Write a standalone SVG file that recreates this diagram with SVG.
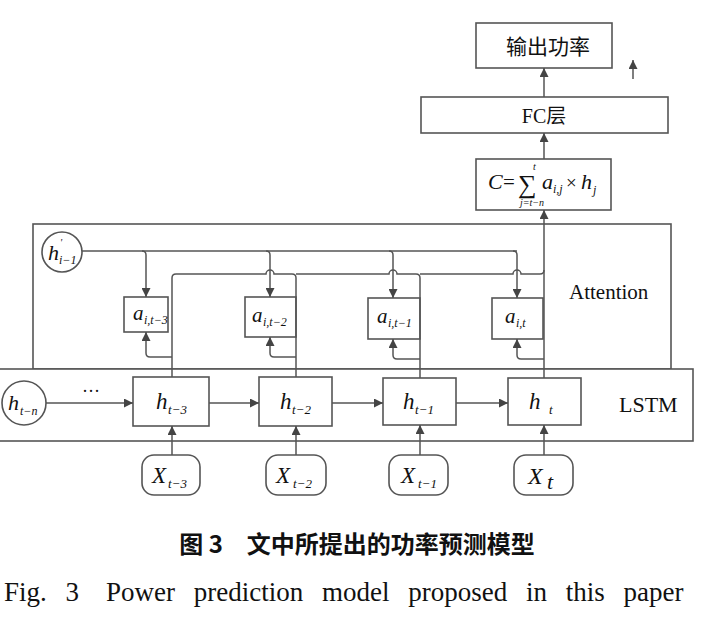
<svg xmlns="http://www.w3.org/2000/svg" width="715" height="621" viewBox="0 0 715 621">
<defs>
<marker id="ar" viewBox="0 0 10 10" refX="10" refY="5" markerWidth="9" markerHeight="9" markerUnits="userSpaceOnUse" orient="auto"><path d="M0,0 L10,5 L0,10 z" fill="#444"/></marker>
</defs>
<style>
.b{fill:#fff;stroke:#555;stroke-width:1.6}
.c{fill:none;stroke:#555;stroke-width:1.5}
.a{fill:none;stroke:#555;stroke-width:1.5;marker-end:url(#ar)}
.m{font-family:"Liberation Serif","DejaVu Serif","Times New Roman",serif;font-style:italic;fill:#111}
.t{font-family:"Liberation Serif","DejaVu Serif","Noto Sans CJK SC",serif;fill:#111}
.k{font-family:"Noto Sans CJK SC",sans-serif;fill:#111}
</style>
<rect width="715" height="621" fill="#fff"/>
<g id="attention"><rect class="b" x="33" y="224" width="638" height="145"/><text class="t" x="569" y="299" font-size="21">Attention</text></g>
<g id="lstm"><rect class="b" x="-2" y="369" width="695" height="72"/><text class="t" x="619" y="412" font-size="22">LSTM</text></g>
<g id="output"><rect class="b" x="476" y="23" width="136" height="45"/><text class="k" x="548" y="54" font-size="21" text-anchor="middle">输出功率</text></g>
<g id="fc"><rect class="b" x="421" y="97" width="247" height="36"/><text class="t" x="544" y="123" font-size="20" text-anchor="middle">FC<tspan class="k">层</tspan></text></g>
<g id="cbox"><rect class="b" x="476" y="159" width="135" height="51"/>
<text class="m" x="488" y="189" font-size="22">C</text><text class="t" x="503" y="189" font-size="21">=</text>
<text class="t" x="518" y="193" font-size="26">∑</text><text class="m" x="533" y="170" font-size="10">t</text><text class="m" x="520" y="206" font-size="10">j=t−n</text>
<text class="m" x="542" y="189" font-size="22">a</text><text class="m" x="553" y="193" font-size="12">i,j</text><text class="t" x="566" y="189" font-size="19">×</text><text class="m" x="581" y="189" font-size="22">h</text><text class="m" x="593" y="194" font-size="12">j</text></g>
<g id="hprev"><circle class="b" cx="62" cy="252" r="20"/><text class="m" x="48" y="260" font-size="22">h</text><text class="m" x="60" y="246" font-size="10">'</text><text class="m" x="59" y="264" font-size="12">i−1</text></g>
<g id="htn"><circle class="b" cx="24" cy="403" r="22"/><text class="m" x="8" y="410" font-size="22">h</text><text class="m" x="20" y="415" font-size="12">t−n</text></g>
<text class="t" x="82" y="397" font-size="18">···</text>
<g id="a3"><rect class="b" x="124" y="297" width="44" height="35"/><text class="m" x="133" y="320" font-size="21">a</text><text class="m" x="144" y="324" font-size="12">i,t−3</text></g>
<g id="a2"><rect class="b" x="245" y="297" width="51" height="40"/><text class="m" x="252" y="322" font-size="21">a</text><text class="m" x="263" y="326" font-size="12">i,t−2</text></g>
<g id="a1"><rect class="b" x="368" y="298" width="52" height="41"/><text class="m" x="377" y="323" font-size="21">a</text><text class="m" x="388" y="327" font-size="12">i,t−1</text></g>
<g id="a0"><rect class="b" x="492" y="298" width="51" height="41"/><text class="m" x="505" y="323" font-size="21">a</text><text class="m" x="516" y="327" font-size="12">i,t</text></g>
<g id="h3"><rect class="b" x="133" y="377" width="76" height="49"/><text class="m" x="156" y="409" font-size="23">h</text><text class="m" x="168" y="414" font-size="13">t−3</text></g>
<g id="h2"><rect class="b" x="259" y="377" width="73" height="49"/><text class="m" x="280" y="409" font-size="23">h</text><text class="m" x="292" y="414" font-size="13">t−2</text></g>
<g id="h1"><rect class="b" x="383" y="378" width="73" height="47"/><text class="m" x="403" y="409" font-size="23">h</text><text class="m" x="415" y="414" font-size="13">t−1</text></g>
<g id="h0"><rect class="b" x="508" y="378" width="73" height="47"/><text class="m" x="529" y="409" font-size="23">h</text><text class="m" x="549" y="414" font-size="13">t</text></g>
<g id="x3"><rect class="b" x="142" y="455" width="58" height="40" rx="12"/><text class="m" x="152" y="483" font-size="23">X</text><text class="m" x="168" y="488" font-size="13">t−3</text></g>
<g id="x2"><rect class="b" x="266" y="455" width="60" height="40" rx="12"/><text class="m" x="276" y="483" font-size="23">X</text><text class="m" x="293" y="488" font-size="13">t−2</text></g>
<g id="x1"><rect class="b" x="389" y="455" width="59" height="40" rx="12"/><text class="m" x="401" y="483" font-size="23">X</text><text class="m" x="418" y="488" font-size="13">t−1</text></g>
<g id="x0"><rect class="b" x="514" y="455" width="59" height="40" rx="12"/><text class="m" x="528" y="484" font-size="24">X</text><text class="m" x="547" y="489" font-size="22">t</text></g>
<g id="connectors">
<path class="a" d="M46,403 H133"/><path class="a" d="M209,403 H259"/><path class="a" d="M332,403 H383"/><path class="a" d="M456,403 H508"/>
<path class="a" d="M172,455 V426"/><path class="a" d="M296,455 V426"/><path class="a" d="M420,455 V425"/><path class="a" d="M544,455 V425"/>
<path class="c" d="M82,251 H517"/>
<path class="a" d="M142,251 Q146,251 146,255 V297"/><path class="a" d="M266,251 Q270,251 270,255 V297"/><path class="a" d="M389,251 Q393,251 393,255 V298"/><path class="a" d="M513,251 Q517,251 517,255 V298"/>
<path class="c" d="M172,377 V278 Q172,274 176,274 H266 a4,4 0 0 1 8,0 H292 Q296,274 296,278 M296,274 H389 a4,4 0 0 1 8,0 H416 Q420,274 420,278 M420,274 H513 a4,4 0 0 1 8,0 H540 Q544,274 544,270"/>
<path class="c" d="M296,377 V278 M420,378 V278"/>
<path class="a" d="M544,378 V210"/>
<path class="a" d="M172,357 H150 Q146,357 146,353 V332"/>
<path class="a" d="M296,357 H274 Q270,357 270,353 V337"/>
<path class="a" d="M420,359 H397 Q393,359 393,355 V339"/>
<path class="a" d="M544,359 H521 Q517,359 517,355 V339"/>
<path class="a" d="M544,159 V133"/><path class="a" d="M544,97 V68"/>
<path class="a" d="M633,79 V60"/>
</g>
<text class="k" x="357" y="553" font-size="24" font-weight="bold" text-anchor="middle">图 3　文中所提出的功率预测模型</text>
<text class="t" x="4" y="601" font-size="27" word-spacing="12">Fig. 3　Power prediction model proposed in this paper</text>
</svg>
